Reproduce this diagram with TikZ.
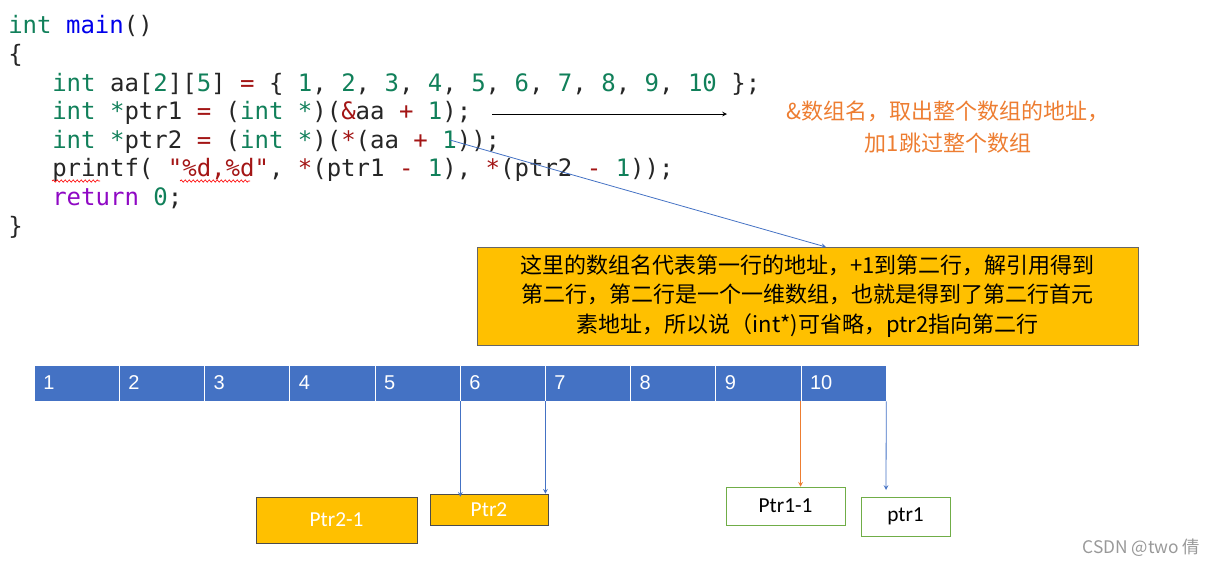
\documentclass[tikz,border=0pt]{standalone}
\usepackage{fontspec}
\setmainfont{Liberation Sans}
\newfontfamily\cjk{Noto Sans CJK SC}
\newfontfamily\codef{DejaVu Sans Mono}
\newfontfamily\calfont{Carlito}
\usetikzlibrary{decorations.pathmorphing}
\definecolor{kw}{RGB}{17,128,90}
\definecolor{op}{RGB}{163,21,21}
\definecolor{fn}{RGB}{0,0,235}
\definecolor{rt}{RGB}{143,8,196}
\definecolor{cellblue}{RGB}{68,114,196}
\definecolor{ylw}{RGB}{255,192,0}
\definecolor{org}{RGB}{237,125,49}
\definecolor{grn}{RGB}{112,173,71}
\newcommand{\K}[1]{\textcolor{kw}{#1}}
\newcommand{\R}[1]{\textcolor{op}{#1}}
\begin{document}
\begin{tikzpicture}[x=0.75pt,y=-0.75pt,
  code/.style={anchor=base west,inner sep=0,font=\codef\fontsize{18}{18}\selectfont,text=black!85},
  cell/.style={draw=white,fill=cellblue,minimum width=85.2*0.75pt,minimum height=36*0.75pt,inner sep=0,text=white,font=\fontsize{15}{15}\selectfont},
  lab/.style={draw,inner sep=0,font=\calfont\fontsize{16}{16}\selectfont},
  arr/.style={->,>=stealth,draw=cellblue,line width=0.6pt}]
\useasboundingbox (0,0) rectangle (1218,565);
\node[code] (c1) at (8,33) {\K{int} \textcolor{fn}{main}()};
\node[code] (c2) at (8,62) {\{};
\node[code] (c3) at (52,91) {\K{int} aa[\K{2}][\K{5}] \R{=} \{ \K{1}, \K{2}, \K{3}, \K{4}, \K{5}, \K{6}, \K{7}, \K{8}, \K{9}, \K{10} \};};
\node[code] (c4) at (52,119) {\K{int *}ptr1 \R{=} (\K{int *})(\R{\&}aa \R{+} \K{1});};
\node[code] (c5) at (52,148) {\K{int *}ptr2 \R{=} (\K{int *})(\R{*}(aa \R{+} \K{1}));};
\node[code] (c6) at (52,176) {printf( \R{"\%d,\%d"}, \R{*}(ptr1 \R{-} \K{1}), \R{*}(ptr2 \R{-} \K{1}));};
\node[code] (c7) at (52,205) {\textcolor{rt}{return} \K{0};};
\node[code] (c8) at (8,234) {\}};
\draw[red,line width=0.5pt,decorate,decoration={snake,amplitude=0.8pt,segment length=3pt}] (52,181) -- (100,181);
\draw[red,line width=0.5pt,decorate,decoration={snake,amplitude=0.8pt,segment length=3pt}] (180,181) -- (250,181);
% notes
\node[text=org,font=\cjk\fontsize{16.5}{24}\selectfont,align=center] (n1) at (948,127) {\&数组名，取出整个数组的地址，\\加1跳过整个数组};
\coordinate (a1s) at (492,114); \coordinate (a1e) at (727,114);
\draw[->,>=stealth,line width=0.6pt] (a1s) -- (a1e);
\node[fill=ylw,draw=black!60,line width=0.4pt,minimum width=661*0.75pt,minimum height=98*0.75pt,inner sep=0,font=\cjk\fontsize{16.5}{22}\selectfont,align=center] (n2) at (807.5,296) {这里的数组名代表第一行的地址，+1到第二行，解引用得到\\第二行，第二行是一个一维数组，也就是得到了第二行首元\\素地址，所以说（int*)可省略，ptr2指向第二行};
\coordinate (a2s) at (450,140);
\coordinate (a2e) at (826,247);
\draw[arr] (a2s) -- (a2e);
% array
\foreach \i in {1,...,10}{
  \node[cell] (k\i) at ({34+85.2*(\i-0.5)},383) {};
  \node[anchor=west,text=white,font=\fontsize{15}{15}\selectfont,inner sep=0] (t\i) at ({34+85.2*(\i-1)+9},383) {\i};
}
% labels
\node[lab,fill=ylw,draw=black!70,minimum width=161*0.75pt,minimum height=46*0.75pt,text=white] (p21) at (336.5,520) {Ptr2-1};
\node[lab,fill=ylw,draw=black!70,minimum width=118*0.75pt,minimum height=31*0.75pt,text=white] (p2) at (489,509.5) {Ptr2};
\node[lab,draw=grn,minimum width=119*0.75pt,minimum height=38*0.75pt] (p11) at (785.5,506) {Ptr1-1};
\node[lab,draw=grn,minimum width=89*0.75pt,minimum height=39*0.75pt] (p1) at (905.5,516.5) {ptr1};
\coordinate (p1e) at (886,490);
\draw[arr] (k5.south east) -- (k5.south east |- p21.north);
\draw[arr] (k6.south east) -- (k6.south east |- p2.north);
\draw[arr,draw=org] (k10.south west) -- (k10.south west |- p11.north);
\draw[arr] (k10.south east) -- (p1e);
\node[text=gray!80,font=\cjk\fontsize{13}{13}\selectfont,anchor=east] (wm) at (1205,548) {CSDN @two 倩};
\end{tikzpicture}
\end{document}
